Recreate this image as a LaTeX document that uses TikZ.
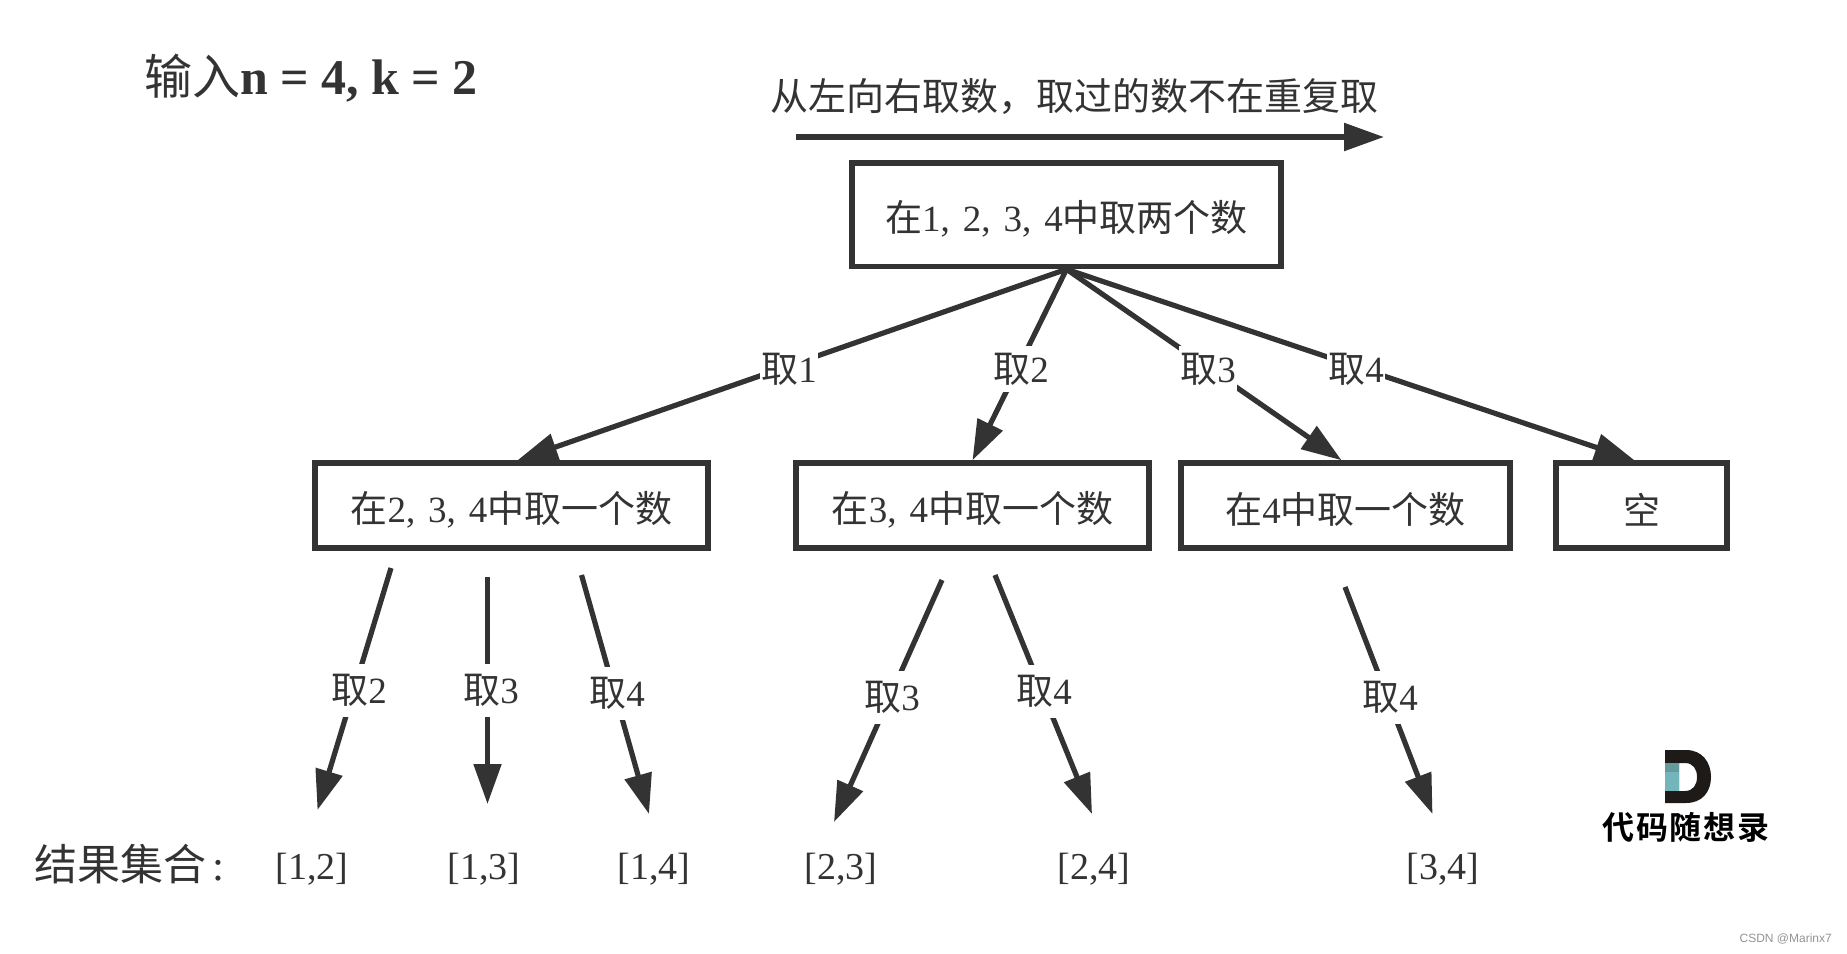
\documentclass[tikz,border=0pt]{standalone}
\usepackage{fontspec}
\usetikzlibrary{arrows.meta}
\setmainfont{Liberation Serif}
\newfontfamily\cjk{Noto Sans CJK SC}
\newfontfamily\cjkb{Noto Sans CJK SC}[BoldFont={Noto Sans CJK SC Bold},FakeBold=0]
\newfontfamily\csdnfont{Liberation Sans}
\newcommand{\zh}[1]{{\cjk #1}}
\newcommand{\fs}[1]{\fontsize{#1}{#1}\selectfont}
\newcommand{\sepc}{,\hspace{13pt}}
\newcommand{\bx}[1]{\rule{0pt}{39pt}#1}
\definecolor{ink}{HTML}{333333}
\definecolor{teal1}{HTML}{72B5BA}
\definecolor{teal2}{HTML}{659A9C}
\definecolor{logok}{HTML}{1E1A18}
\tikzset{
  box/.style={draw=ink,line width=5.5pt,fill=white,text=ink,inner sep=0pt,minimum height=85pt,font=\fs{37}},
  edge/.style={draw=ink,line width=5.2pt,-{Triangle[length=40pt,width=27pt]}},
  lab/.style={fill=white,text=ink,inner sep=0pt,minimum width=58pt,minimum height=46pt,font=\fs{37}},
  lablow/.style={lab,minimum height=53pt},
  res/.style={text=ink,inner sep=0pt,font=\fs{38}}
}
\begin{document}
\begin{tikzpicture}[x=1pt,y=-1pt]
\useasboundingbox (0,0) rectangle (1847,953);
\fill[white] (0,0) rectangle (1847,953);

\node[text=ink,anchor=west,inner sep=0pt,font=\fs{48}] (title) at (144,78) {\zh{输入}{\fs{50}\textbf{n = 4, k = 2}}};
\node[text=ink,inner sep=0pt] (note) at (1074,96) {\fs{38}\zh{从左向右取数，取过的数不在重复取}};
\coordinate (ha) at (796,137);
\coordinate (hb) at (1384,137);
\draw[edge,line width=5.5pt] (ha) -- (hb);

\node[box,minimum width=429pt,minimum height=103.5pt] (root) at (1066.5,214.75) {\bx{\zh{在}1\sepc 2\sepc 3\sepc 4\zh{中取两个数}}};
\node[box,minimum width=393pt] (b1) at (511.5,505.5) {\bx{\zh{在}2\sepc 3\sepc 4\zh{中取一个数}}};
\node[box,minimum width=353pt] (b2) at (972.5,505.5) {\bx{\zh{在}3\sepc 4\zh{中取一个数}}};
\node[box,minimum width=329pt] (b3) at (1345.5,505.5) {\bx{\zh{在}4\zh{中取一个数}}};
\node[box,minimum width=171pt] (b4) at (1641.5,505.5) {\bx{\zh{空}}};

\draw[edge] (root.south) -- ([xshift=6pt]b1.north);
\draw[edge] (root.south) -- (b2.north);
\draw[edge] (root.south) -- ([xshift=-4pt]b3.north);
\draw[edge] (root.south) -- ([xshift=-7pt]b4.north);

\node[lab] (l1) at (789,369) {\zh{取}1};
\node[lab] (l2) at (1021,369) {\zh{取}2};
\node[lab] (l3) at (1208,369) {\zh{取}3};
\node[lab] (l4) at (1356,369) {\zh{取}4};

\coordinate (s1) at (391,568);   \coordinate (t1) at (317.5,810);
\coordinate (s2) at (487.5,577); \coordinate (t2) at (487.5,804);
\coordinate (s3) at (581.5,575); \coordinate (t3) at (649,814);
\coordinate (s4) at (942,580);   \coordinate (t4) at (834,822);
\coordinate (s5) at (995,575);   \coordinate (t5) at (1092,814);
\coordinate (s6) at (1345,587);  \coordinate (t6) at (1432.5,814);
\foreach \i in {1,...,6} {\draw[edge] (s\i) -- (t\i);}

\node[lablow] (m1) at (359,690) {\zh{取}2};
\node[lablow] (m2) at (491,690) {\zh{取}3};
\node[lablow] (m3) at (617,693) {\zh{取}4};
\node[lablow] (m4) at (892,697) {\zh{取}3};
\node[lablow] (m5) at (1044,691) {\zh{取}4};
\node[lablow] (m6) at (1390,697) {\zh{取}4};

\node[text=ink,anchor=west,inner sep=0pt] (rl) at (34,864) {\fs{43}\zh{结果集合}\hspace{6pt}:};
\node[res] (r1) at (312,869) {[1,2]};
\node[res] (r2) at (484,869) {[1,3]};
\node[res] (r3) at (654,869) {[1,4]};
\node[res] (r4) at (841,869) {[2,3]};
\node[res] (r5) at (1094,869) {[2,4]};
\node[res] (r6) at (1443,869) {[3,4]};

% logo
\fill[logok,even odd rule] (1665,750) -- (1686,750) .. controls (1702,750) and (1711,762) .. (1711,777) .. controls (1711,792) and (1702,803) .. (1686,803) -- (1665,803) -- cycle
  (1679,763) -- (1685,763) .. controls (1693,763) and (1697,769) .. (1697,777) .. controls (1697,785) and (1693,791) .. (1685,791) -- (1679,791) -- cycle;
\fill[teal1] (1665,763) rectangle (1679,791);
\fill[teal2] (1665,763) rectangle (1679,772);
\node[text=black,inner sep=0pt] (logo) at (1686,827) {\fs{32}\bfseries\cjkb\addfontfeature{LetterSpace=5}代码随想录};

\node[text=black!42,anchor=east,inner sep=0pt] (csdn) at (1832,939) {\fs{12}\csdnfont CSDN @Marinx7};
\end{tikzpicture}
\end{document}
